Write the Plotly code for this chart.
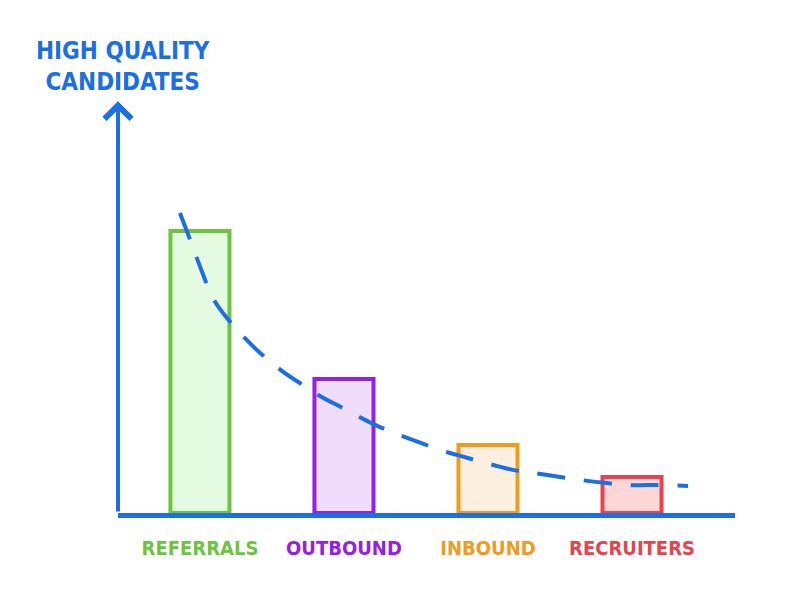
import plotly.graph_objects as go

categories = ["REFERRALS", "OUTBOUND", "INBOUND", "RECRUITERS"]
values = [100, 47.5, 24.1, 12.8]
outline_colors = ["#6cc440", "#9420e6", "#f09a1e", "#e8434c"]
fill_colors = ["#e4fbe2", "#f0dcfb", "#fdefdf", "#fdd6d6"]

# hand-drawn trend curve (x in category-index units, y in value units)
trend_x = [-0.139, -0.0625, 0.007, 0.090, 0.160, 0.292, 0.410, 0.590, 0.694, 0.833,
           0.993, 1.201, 1.333, 1.5, 1.667, 1.785, 1.986, 2.181, 2.319, 2.5,
           2.646, 2.826, 2.972, 3.104, 3.229, 3.389]
trend_y = [106.4, 96.1, 86.5, 76.2, 70.9, 63.1, 57.1, 49.6, 46.1, 41.5,
           37.2, 31.6, 28.7, 25.5, 22.3, 20.6, 17.7, 15.2, 14.2, 12.8,
           11.7, 10.6, 9.9, 9.9, 9.9, 9.6]

y_title = "<b>HIGH QUALITY</b><br><b>CANDIDATES</b>"
BLUE = "#1b6fe2"
FONT = "DejaVu Sans Condensed, DejaVu Sans"

xpos = list(range(len(categories)))
x_min, x_max = -0.569, 3.715
y_max = 146.45

fig = go.Figure()
fig.add_trace(go.Bar(
    x=xpos, y=values, width=0.41,
    marker=dict(color=fill_colors, line=dict(color=outline_colors, width=4)),
    hoverinfo="skip",
))
fig.add_trace(go.Scatter(
    x=trend_x, y=trend_y, mode="lines",
    line=dict(color=BLUE, width=4, dash="28px,19px", shape="spline"),
    hoverinfo="skip",
))

ticktext = [f'<b><span style="color:{c}">{t}</span></b>' for t, c in zip(categories, outline_colors)]

fig.update_layout(
    width=802, height=600,
    margin=dict(l=110, r=75, t=92, b=95),
    paper_bgcolor="white", plot_bgcolor="white",
    showlegend=False,
    font=dict(family=FONT),
    xaxis=dict(
        range=[x_min, x_max], tickmode="array", tickvals=xpos, ticktext=ticktext,
        showgrid=False, zeroline=False, showline=True, linecolor=BLUE, linewidth=5,
        ticks="", tickfont=dict(size=20, family=FONT), ticklabelstandoff=13,
        fixedrange=True,
    ),
    yaxis=dict(
        range=[0, y_max], showgrid=False, zeroline=False, showline=False,
        showticklabels=False, ticks="", fixedrange=True,
    ),
    annotations=[
        dict(x=x_min, y=146, xref="x", yref="y", ax=x_min, ay=0, axref="x", ayref="y",
             showarrow=True, arrowhead=4, arrowsize=1.3, arrowwidth=4, arrowcolor=BLUE, text=""),
        dict(x=(123 - 118) / 617, y=(513 - 66) / 413, xref="paper", yref="paper",
             text=y_title, showarrow=False, xanchor="center", yanchor="middle", align="center",
             font=dict(size=24, color=BLUE, family=FONT)),
    ],
)

fig.write_html("out.html")
